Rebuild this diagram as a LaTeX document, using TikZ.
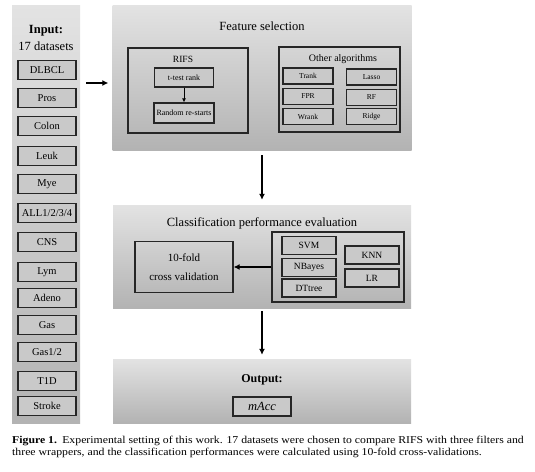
\documentclass[tikz,border=0pt]{standalone}
\usepackage{fontspec}
\setmainfont{Liberation Serif}
\newfontfamily\capfont[FakeStretch=1.12]{Liberation Serif}
\usetikzlibrary{arrows.meta,positioning}
\tikzset{
    panel-box/.style = {rectangle, inner sep=0pt, top color=black!11, bottom color=black!30, draw=none},
    group-box/.style = {draw=black!85, line width=1.2pt, rectangle, inner sep=0pt},
    item-box/.style = {draw=black!85, fill=black!21, line width=1.2pt, rectangle, inner sep=0pt},
    panel-title/.style = {font=\fontsize{12.5}{14}\selectfont, inner sep=0pt},
    flow-arrow/.style = {-{Latex[length=6pt,width=6pt]}, line width=1.4pt},
}

\begin{document}
\begin{tikzpicture}[x=1pt, y=-1pt]
\useasboundingbox (0,0) rectangle (535,471);

% panels
\node[panel-box, minimum width=68pt, minimum height=418pt] (input) at (46,214) {};
\node[panel-box, minimum width=299pt, minimum height=145pt] (feat) at (262,77.5) {};
\node[panel-box, minimum width=298pt, minimum height=103pt] (class) at (262,256.5) {};
\node[panel-box, minimum width=298pt, minimum height=64pt] (out) at (262,391) {};

% input datasets
\node[panel-title, font=\bfseries\fontsize{12.5}{14}\selectfont] (input-title) at (46,31) {Input:};
\node[panel-title] (input-sub) at (46,46) {17 datasets};
\foreach \lbl/\y [count=\i] in {DLBCL/70, Pros/98, Colon/126, Leuk/156, Mye/184, ALL1\slash 2\slash 3\slash 4/213,
        CNS/242, Lym/272, Adeno/298, Gas/325, Gas1\slash 2/352, T1D/381, Stroke/406}
    \node[item-box, minimum width=58pt, minimum height=19pt, font=\fontsize{10.5}{12}\selectfont] (ds\i) at (47,\y) {\lbl};

% feature selection
\node[panel-title] (feat-title) at (262,26) {Feature selection};
\node[group-box, minimum width=120pt, minimum height=85pt] (rifs) at (188,90.5) {};
\node[inner sep=0pt, font=\fontsize{9.5}{11}\selectfont] (rifs-title) at (183,59) {RIFS};
\node[item-box, minimum width=59pt, minimum height=19pt, font=\fontsize{8}{9}\selectfont] (ttest) at (184,77.5) {t-test rank};
\node[item-box, minimum width=60pt, minimum height=20pt, font=\fontsize{8}{9}\selectfont] (restart) at (184,113) {Random re-starts};
\draw[-{Latex[length=4pt,width=4pt]}, line width=0.9pt] (ttest) -- (restart);

\node[group-box, minimum width=121pt, minimum height=85pt] (other) at (339.5,89.5) {};
\node[inner sep=0pt, font=\fontsize{10}{12}\selectfont] (other-title) at (343,59) {Other algorithms};
\foreach \lbl/\x/\y in {Trank/308/76, Lasso/371.5/77, FPR/308/96.5, RF/371.5/97.5, Wrank/308/116.5, Ridge/371.5/116.5}
    \node[item-box, minimum width=50pt, minimum height=16pt, font=\fontsize{7.5}{9}\selectfont] (\lbl) at (\x,\y) {\lbl};

% classification
\node[panel-title] (class-title) at (262,223) {Classification performance evaluation};
\node[group-box, minimum width=98pt, minimum height=51pt, align=center, font=\fontsize{11}{19}\selectfont] (cv) at (184,267) {10-fold\\cross validation};
\node[group-box, minimum width=132pt, minimum height=70pt] (clf) at (338,267) {};
\foreach \lbl/\x/\y in {SVM/309/245.5, NBayes/309/267.5, DTtree/309/288, KNN/372/255, LR/372/278}
    \node[item-box, minimum width=54pt, minimum height=18pt, font=\fontsize{9.5}{11}\selectfont] (\lbl) at (\x,\y) {\lbl};
\draw[flow-arrow] (clf.west) -- (cv.east);

% output
\node[panel-title, font=\bfseries\fontsize{12}{14}\selectfont] (out-title) at (262,380) {Output:};
\node[item-box, minimum width=58pt, minimum height=19pt, font=\itshape\fontsize{12.5}{14}\selectfont] (macc) at (262,406.5) {mAcc};

% arrows between panels
\coordinate (in-y) at (0,83);
\draw[flow-arrow, shorten <=6pt, shorten >=4pt] (input.east |- in-y) -- (feat.west |- in-y);
\draw[flow-arrow, shorten <=5pt, shorten >=5pt] (feat.south) -- (feat.south |- class.north);
\draw[flow-arrow, shorten <=3pt, shorten >=4pt] (class.south) -- (class.south |- out.north);

% caption
\node[anchor=north west, align=left, inner sep=0pt, font=\capfont\fontsize{10.5}{12}\selectfont] (caption) at (12,436)
    {\textbf{Figure 1.}\enspace Experimental setting of this work. 17 datasets were chosen to compare RIFS with three filters and\\
     three wrappers, and the classification performances were calculated using 10-fold cross-validations.};
\end{tikzpicture}
\end{document}
